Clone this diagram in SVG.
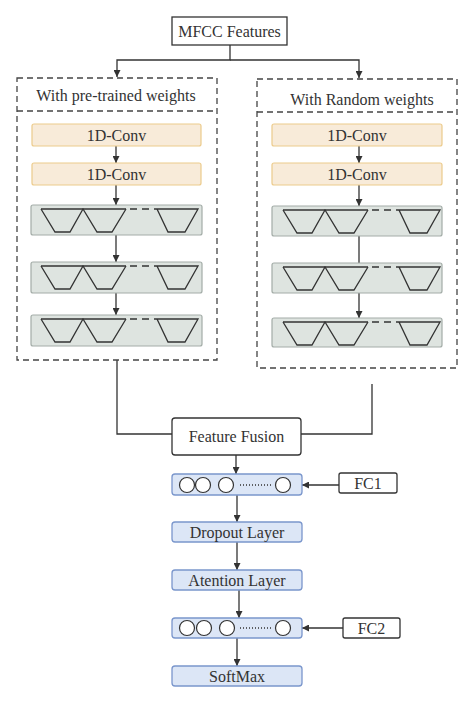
<svg xmlns="http://www.w3.org/2000/svg" width="474" height="703" viewBox="0 0 474 703">
<defs>
<marker id="ah" viewBox="0 0 10 10" refX="10" refY="5" markerWidth="7" markerHeight="7" orient="auto" markerUnits="userSpaceOnUse"><path d="M0,0 L10,5 L0,10 Z" fill="#333"/></marker>
<g id="tr">
<line x1="41" y1="4" x2="126" y2="4" stroke="#333" stroke-width="1.3"/>
<line x1="126" y1="4" x2="157" y2="4" stroke="#333" stroke-width="1.3" stroke-dasharray="7,5" stroke-dashoffset="-4"/>
<polyline points="41,4 55,27 70,27 83,4 97,27 112,27 126,4" fill="none" stroke="#333" stroke-width="1.3"/>
<polyline points="157,4 168,27 185,27 198,4 157,4" fill="none" stroke="#333" stroke-width="1.3"/>
</g>
</defs>
<style>
text{font-family:"Liberation Serif","DejaVu Serif",serif;fill:#333;text-anchor:middle;dominant-baseline:central;font-size:16px}
.plain{fill:#fff;stroke:#333;stroke-width:1.3}
.dash{fill:none;stroke:#444;stroke-width:1.3;stroke-dasharray:6,4}
.conv{fill:#f8ebd9;stroke:#eccb8c;stroke-width:1.2}
.grey{fill:#dee4e0;stroke:#a3aca7;stroke-width:1.2}
.blue{fill:#dce6f6;stroke:#7a96cc;stroke-width:1.3}
.c{fill:#fff;stroke:#333;stroke-width:1.2}
.ln{fill:none;stroke:#333;stroke-width:1.3}
.dot{stroke:#333;stroke-width:1.3;stroke-dasharray:1,2}
</style>
<rect width="474" height="703" fill="#fff"/>
<g id="connectors">
<polyline class="ln" points="230,45 230,60 117,60 117,77" marker-end="url(#ah)"/>
<polyline class="ln" points="230,60 359,60 359,78" marker-end="url(#ah)"/>
<line class="ln" x1="116" y1="146" x2="116" y2="163" marker-end="url(#ah)"/>
<line class="ln" x1="116" y1="185" x2="116" y2="205" marker-end="url(#ah)"/>
<line class="ln" x1="116" y1="235" x2="116" y2="262" marker-end="url(#ah)"/>
<line class="ln" x1="116" y1="293" x2="116" y2="315" marker-end="url(#ah)"/>
<line class="ln" x1="359" y1="146" x2="359" y2="163" marker-end="url(#ah)"/>
<line class="ln" x1="359" y1="185" x2="359" y2="206" marker-end="url(#ah)"/>
<line class="ln" x1="359" y1="236" x2="359" y2="263"/>
<line class="ln" x1="359" y1="293" x2="359" y2="318" marker-end="url(#ah)"/>
<polyline class="ln" points="117,360 117,434 172,434"/>
<polyline class="ln" points="301,434 372,434 372,384"/>
<line class="ln" x1="236" y1="455" x2="236" y2="474" marker-end="url(#ah)"/>
<line class="ln" x1="339" y1="485" x2="302" y2="485" marker-end="url(#ah)"/>
<line class="ln" x1="237" y1="495" x2="237" y2="522" marker-end="url(#ah)"/>
<line class="ln" x1="237" y1="542" x2="237" y2="570" marker-end="url(#ah)"/>
<line class="ln" x1="239" y1="590" x2="239" y2="618" marker-end="url(#ah)"/>
<line class="ln" x1="343" y1="628" x2="302" y2="628" marker-end="url(#ah)"/>
<line class="ln" x1="237" y1="638" x2="237" y2="666" marker-end="url(#ah)"/>
</g>
<g id="mfcc"><rect class="plain" x="172" y="17" width="115" height="28"/><text x="229.5" y="31">MFCC Features</text></g>
<g id="left-branch">
<rect class="dash" x="17" y="78" width="200" height="282"/>
<line class="dash" x1="17" y1="111" x2="217" y2="111"/>
<text x="116" y="95.5">With pre-trained weights</text>
</g>
<g id="right-branch">
<rect class="dash" x="257" y="79" width="200" height="289"/>
<line class="dash" x1="257" y1="112" x2="457" y2="112"/>
<text x="362" y="99">With Random weights</text>
</g>
<g id="l-conv1"><rect class="conv" x="32" y="124" width="169" height="22" rx="2"/><text x="116.5" y="135">1D-Conv</text></g>
<g id="l-conv2"><rect class="conv" x="32" y="163" width="169" height="22" rx="2"/><text x="116.5" y="174">1D-Conv</text></g>
<g id="l-pool1"><rect class="grey" x="31" y="205" width="171" height="30" rx="2"/><use href="#tr" x="0" y="205"/></g>
<g id="l-pool2"><rect class="grey" x="31" y="262" width="171" height="31" rx="2"/><use href="#tr" x="0" y="262"/></g>
<g id="l-pool3"><rect class="grey" x="31" y="315" width="171" height="31" rx="2"/><use href="#tr" x="0" y="315"/></g>
<g id="r-conv1"><rect class="conv" x="272" y="124" width="170" height="22" rx="2"/><text x="357" y="135">1D-Conv</text></g>
<g id="r-conv2"><rect class="conv" x="272" y="163" width="170" height="22" rx="2"/><text x="357" y="174">1D-Conv</text></g>
<g id="r-pool1"><rect class="grey" x="272" y="206" width="170" height="30" rx="2"/><use href="#tr" x="242" y="206"/></g>
<g id="r-pool2"><rect class="grey" x="272" y="263" width="170" height="30" rx="2"/><use href="#tr" x="242" y="263"/></g>
<g id="r-pool3"><rect class="grey" x="272" y="318" width="170" height="29" rx="2"/><use href="#tr" x="242" y="318"/></g>
<g id="fusion"><rect class="plain" x="172" y="418" width="129" height="37" rx="3"/><text x="236.5" y="436">Feature Fusion</text></g>
<g id="fc1-layer"><rect class="blue" x="172" y="474" width="130" height="21" rx="3"/>
<circle class="c" cx="187" cy="485" r="7.5"/><circle class="c" cx="203" cy="485" r="7.5"/><circle class="c" cx="226" cy="485" r="7.5"/>
<line class="dot" x1="240" y1="485" x2="271" y2="485"/><circle class="c" cx="283" cy="485" r="7.5"/></g>
<g id="fc1"><rect class="plain" x="339" y="473" width="58" height="20" rx="2"/><text x="368" y="483.5">FC1</text></g>
<g id="dropout"><rect class="blue" x="172" y="522" width="130" height="20" rx="3"/><text x="237" y="532">Dropout Layer</text></g>
<g id="attention"><rect class="blue" x="172" y="570" width="130" height="20" rx="3"/><text x="237" y="580">Atention Layer</text></g>
<g id="fc2-layer"><rect class="blue" x="172" y="618" width="130" height="20" rx="3"/>
<circle class="c" cx="187" cy="628" r="7.5"/><circle class="c" cx="204" cy="628" r="7.5"/><circle class="c" cx="227" cy="628" r="7.5"/>
<line class="dot" x1="240" y1="628" x2="272" y2="628"/><circle class="c" cx="283" cy="628" r="7.5"/></g>
<g id="fc2"><rect class="plain" x="343" y="618" width="57" height="20" rx="2"/><text x="371.5" y="628.5">FC2</text></g>
<g id="softmax"><rect class="blue" x="172" y="666" width="130" height="20" rx="3"/><text x="237" y="676">SoftMax</text></g>
</svg>
